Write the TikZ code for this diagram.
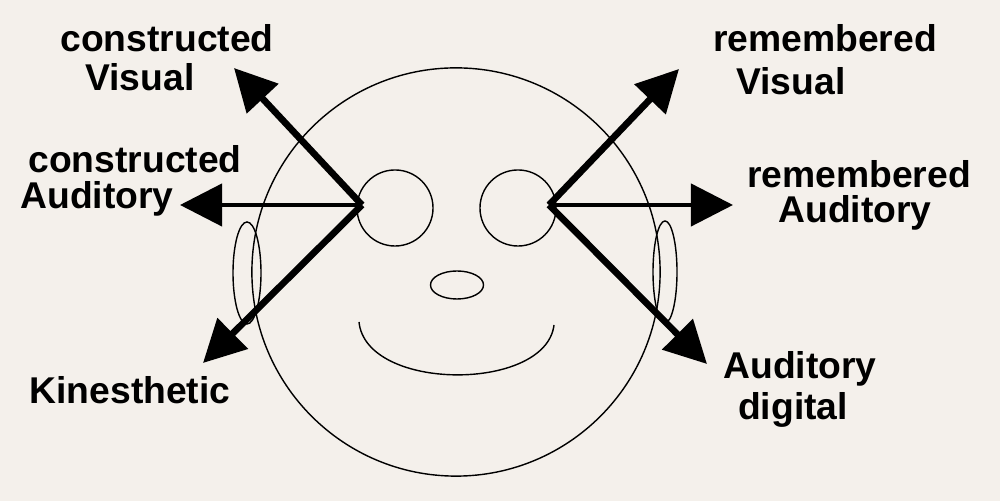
\documentclass[tikz,border=0pt]{standalone}
\usepackage{fontspec}
\setmainfont{Liberation Sans}
\usepackage{tikz}
\usetikzlibrary{arrows.meta, positioning, shapes.geometric}
\definecolor{paper}{HTML}{F4F0EB}

\begin{document}
\begin{tikzpicture}[
    x=0.01cm, y=-0.01cm,
    outline/.style={draw, line width=0.4pt},
    round/.style={outline, circle, inner sep=0pt},
    oval/.style={outline, ellipse, inner sep=0pt},
    label/.style={anchor=base, font=\bfseries\fontsize{10.6}{12.2}\selectfont, inner sep=0pt},
    arrow/.style={-{Triangle[length=0.42cm, width=0.42cm]}, line width=1.9pt},
    thinarrow/.style={arrow, line width=1.2pt}
]

% Background
\fill[paper] (0,0) rectangle (1000,501);
\useasboundingbox (0,0) rectangle (1000,501);

% Nodes
\node[round, minimum size=4.08cm] (head) at (456,272) {};
\node[round, minimum size=0.76cm] (lefteye) at (395,208) {};
\node[round, minimum size=0.76cm] (righteye) at (518,208) {};
\node[oval, minimum width=0.53cm, minimum height=0.28cm] (nose) at (457,285) {};
\node[oval, minimum width=0.28cm, minimum height=1.02cm] (leftear) at (247,273) {};
\node[oval, minimum width=0.24cm, minimum height=1.02cm] (rightear) at (665,272) {};

\coordinate (mouthl) at (359,322);
\coordinate (mouthr) at (554,325);
\coordinate (lefteyein) at (362,205);
\coordinate (righteyein) at (549,205);

\coordinate (cv) at (234,68);
\coordinate (ca) at (180,205);
\coordinate (kin) at (203,363);
\coordinate (rv) at (679,69);
\coordinate (ra) at (733,205);
\coordinate (ad) at (707,364);

% Labels
\node[label] (cvtop) at (167,52) {constructed};
\node[label] (cvlow) at (140,91) {Visual};
\node[label] (catop) at (135,173) {constructed};
\node[label] (calow) at (97,209) {Auditory};
\node[label] (kintext) at (130,404) {Kinesthetic};
\node[label] (rvtop) at (825,52) {remembered};
\node[label] (rvlow) at (791,95) {Visual};
\node[label] (ratop) at (859,188) {remembered};
\node[label] (ralow) at (855,223) {Auditory};
\node[label] (adtop) at (800,379) {Auditory};
\node[label] (adlow) at (793,420) {digital};

% Mouth
\draw[outline] (mouthl) .. controls (366,392) and (546,392) .. (mouthr);

% Arrows
\draw[arrow] (lefteyein) -- (cv);
\draw[thinarrow] (lefteyein) -- (ca);
\draw[arrow] (lefteyein) -- (kin);
\draw[arrow] (righteyein) -- (rv);
\draw[thinarrow] (righteyein) -- (ra);
\draw[arrow] (righteyein) -- (ad);

\end{tikzpicture}
\end{document}
